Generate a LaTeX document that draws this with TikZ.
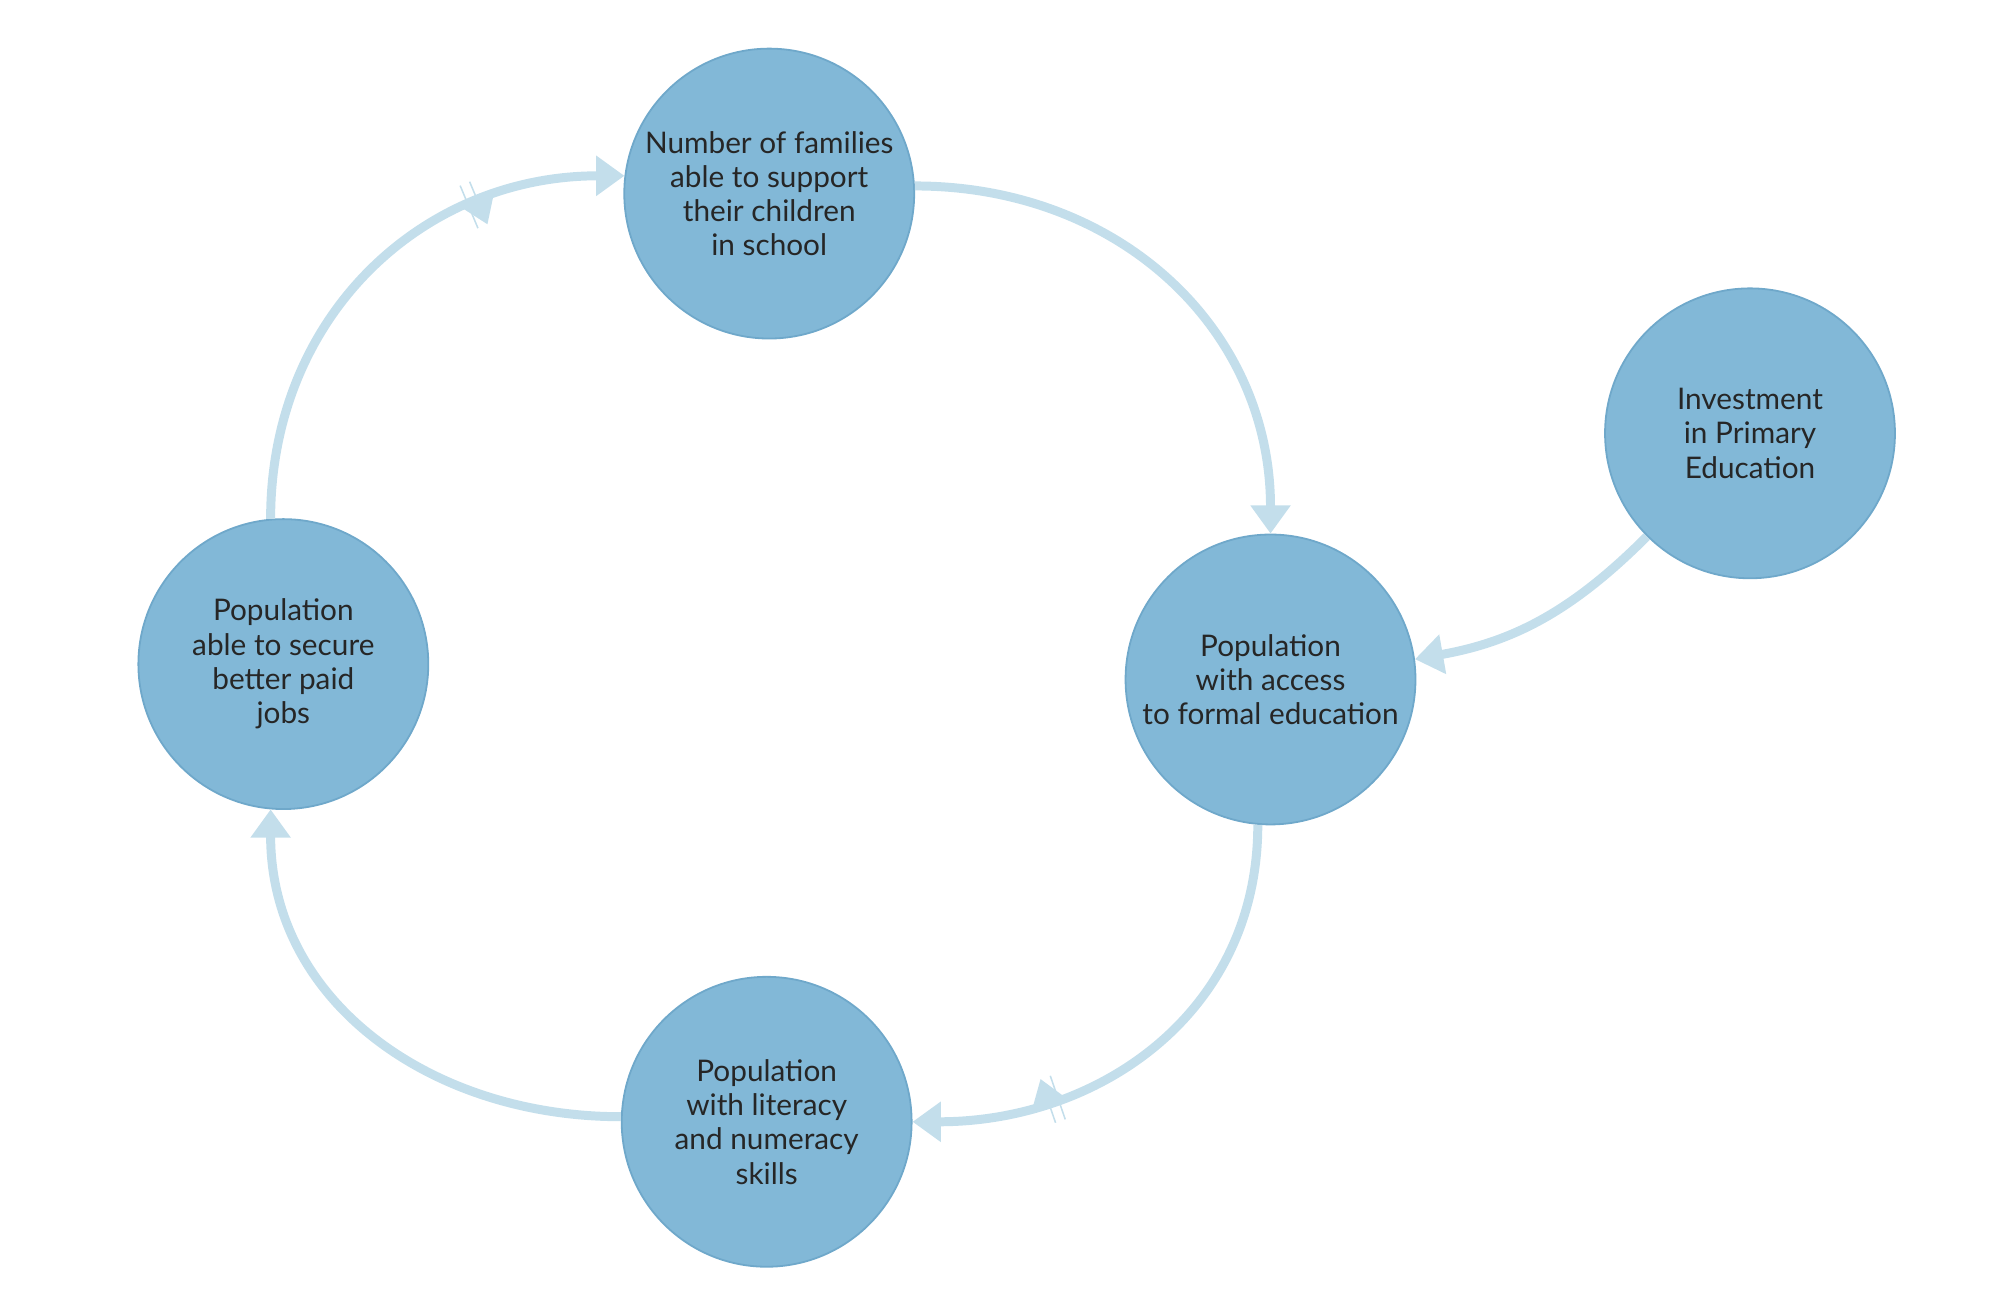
\documentclass[tikz,border=0pt]{standalone}
\usepackage{fontspec}
\setmainfont{Lato}
\usetikzlibrary{arrows.meta,decorations.markings}
\definecolor{nodefill}{HTML}{82B8D7}
\definecolor{nodeline}{HTML}{6FA8CA}
\definecolor{linkc}{HTML}{C3DEEB}
\begin{document}
\begin{tikzpicture}[x=0.01cm,y=-0.01cm,
  bub/.style={circle,fill=nodefill,draw=nodeline,line width=0.4pt,minimum size=2.26cm,inner sep=0pt,align=center,font=\fontsize{6.6}{7.6}\selectfont,text=black!85},
  link/.style={draw=linkc,line width=0.07cm,-{Triangle[length=0.22cm,width=0.3cm]}},
  hash/.style={postaction={decorate},decoration={markings,mark=at position #1 with {\draw[linkc,line width=0.012cm] (-4,-18)--(-4,18) (4,-18)--(4,18);}}}]
\useasboundingbox (0,0) rectangle (1560,1016);
\node[bub] (top) at (600,151) {Number of families\\able to support\\their children\\in school};
\node[bub] (right) at (991,530) {Population\\with access\\to formal education};
\node[bub] (inv) at (1365,338) {Investment\\in Primary\\Education};
\node[bub] (bot) at (598,875) {Population\\with literacy\\and numeracy\\skills};
\node[bub] (left) at (221,518) {Population\\able to secure\\better paid\\jobs};
\draw[link] (top.3) to[out=0,in=90,looseness=1.05] (right.north);
\draw[link,hash=0.72] (right.265) to[out=-90,in=0,looseness=1.05] (bot.0);
\draw[link] (bot.178) to[out=180,in=-90,looseness=1.05] (left.265);
\draw[link,hash=0.72] (left.95) to[out=90,in=180,looseness=1.05] (top.173);
\draw[link] (inv.225) to[out=225,in=10] (right.8);
\end{tikzpicture}
\end{document}
